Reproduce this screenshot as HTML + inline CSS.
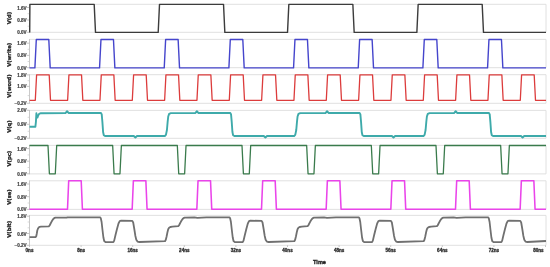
<!DOCTYPE html>
<html><head><meta charset="utf-8"><title>Waveforms</title>
<style>html,body{margin:0;padding:0;background:#fff;}svg{display:block;}text{font-family:"Liberation Sans",Arial,sans-serif;font-weight:bold;}</style></head><body>
<svg width="550" height="267" viewBox="0 0 550 267">
<rect width="550" height="267" fill="#fff"/>
<path d="M29.5,4.3 H546.0 V32.3 H29.5" fill="none" stroke="#dcdcdc" stroke-width="0.9"/>
<path d="M29.5,3.9 V32.7" fill="none" stroke="#c4c4c4" stroke-width="0.9"/>
<path d="M29.5,39.4 H546.0 V67.7 H29.5" fill="none" stroke="#dcdcdc" stroke-width="0.9"/>
<path d="M29.5,39 V68.1" fill="none" stroke="#c4c4c4" stroke-width="0.9"/>
<path d="M29.5,74.7 H546.0 V103.3 H29.5" fill="none" stroke="#dcdcdc" stroke-width="0.9"/>
<path d="M29.5,74.3 V103.7" fill="none" stroke="#c4c4c4" stroke-width="0.9"/>
<path d="M29.5,110.4 H546.0 V138.3 H29.5" fill="none" stroke="#dcdcdc" stroke-width="0.9"/>
<path d="M29.5,110 V138.7" fill="none" stroke="#c4c4c4" stroke-width="0.9"/>
<path d="M29.5,145.4 H546.0 V173.9 H29.5" fill="none" stroke="#dcdcdc" stroke-width="0.9"/>
<path d="M29.5,145 V174.3" fill="none" stroke="#c4c4c4" stroke-width="0.9"/>
<path d="M29.5,180.8 H546.0 V209.4 H29.5" fill="none" stroke="#dcdcdc" stroke-width="0.9"/>
<path d="M29.5,180.4 V209.8" fill="none" stroke="#c4c4c4" stroke-width="0.9"/>
<path d="M29.5,215.4 H546.0 V245.3 H29.5" fill="none" stroke="#dcdcdc" stroke-width="0.9"/>
<path d="M29.5,215 V245.7" fill="none" stroke="#c4c4c4" stroke-width="0.9"/>
<path d="M26.6,7.5 H29.5" stroke="#b8b8b8" stroke-width="0.8"/>
<path d="M26.6,20.0 H29.5" stroke="#b8b8b8" stroke-width="0.8"/>
<path d="M26.6,32.3 H29.5" stroke="#b8b8b8" stroke-width="0.8"/>
<path d="M27.6,13.7 H29.5" stroke="#c8c8c8" stroke-width="0.7"/>
<path d="M27.6,26.2 H29.5" stroke="#c8c8c8" stroke-width="0.7"/>
<path d="M26.6,43.2 H29.5" stroke="#b8b8b8" stroke-width="0.8"/>
<path d="M26.6,55.4 H29.5" stroke="#b8b8b8" stroke-width="0.8"/>
<path d="M26.6,67.7 H29.5" stroke="#b8b8b8" stroke-width="0.8"/>
<path d="M27.6,49.3 H29.5" stroke="#c8c8c8" stroke-width="0.7"/>
<path d="M27.6,61.5 H29.5" stroke="#c8c8c8" stroke-width="0.7"/>
<path d="M26.6,74.9 H29.5" stroke="#b8b8b8" stroke-width="0.8"/>
<path d="M26.6,86.4 H29.5" stroke="#b8b8b8" stroke-width="0.8"/>
<path d="M26.6,103.3 H29.5" stroke="#b8b8b8" stroke-width="0.8"/>
<path d="M27.6,80.7 H29.5" stroke="#c8c8c8" stroke-width="0.7"/>
<path d="M27.6,95.6 H29.5" stroke="#c8c8c8" stroke-width="0.7"/>
<path d="M26.6,110.3 H29.5" stroke="#b8b8b8" stroke-width="0.8"/>
<path d="M26.6,124.3 H29.5" stroke="#b8b8b8" stroke-width="0.8"/>
<path d="M26.6,138.2 H29.5" stroke="#b8b8b8" stroke-width="0.8"/>
<path d="M27.6,117.3 H29.5" stroke="#c8c8c8" stroke-width="0.7"/>
<path d="M27.6,131.3 H29.5" stroke="#c8c8c8" stroke-width="0.7"/>
<path d="M26.6,148.6 H29.5" stroke="#b8b8b8" stroke-width="0.8"/>
<path d="M26.6,161.2 H29.5" stroke="#b8b8b8" stroke-width="0.8"/>
<path d="M26.6,173.8 H29.5" stroke="#b8b8b8" stroke-width="0.8"/>
<path d="M27.6,154.9 H29.5" stroke="#c8c8c8" stroke-width="0.7"/>
<path d="M27.6,167.5 H29.5" stroke="#c8c8c8" stroke-width="0.7"/>
<path d="M26.6,184.0 H29.5" stroke="#b8b8b8" stroke-width="0.8"/>
<path d="M26.6,196.7 H29.5" stroke="#b8b8b8" stroke-width="0.8"/>
<path d="M26.6,209.4 H29.5" stroke="#b8b8b8" stroke-width="0.8"/>
<path d="M27.6,190.4 H29.5" stroke="#c8c8c8" stroke-width="0.7"/>
<path d="M27.6,203.0 H29.5" stroke="#c8c8c8" stroke-width="0.7"/>
<path d="M26.6,216.2 H29.5" stroke="#b8b8b8" stroke-width="0.8"/>
<path d="M26.6,233.5 H29.5" stroke="#b8b8b8" stroke-width="0.8"/>
<path d="M26.6,245.3 H29.5" stroke="#b8b8b8" stroke-width="0.8"/>
<path d="M27.6,222.0 H29.5" stroke="#c8c8c8" stroke-width="0.7"/>
<path d="M27.6,227.8 H29.5" stroke="#c8c8c8" stroke-width="0.7"/>
<path d="M27.6,239.3 H29.5" stroke="#c8c8c8" stroke-width="0.7"/>
<path d="M29.5,245.3 V247" stroke="#b8b8b8" stroke-width="0.8"/>
<path d="M81.1,245.3 V247" stroke="#b8b8b8" stroke-width="0.8"/>
<path d="M132.7,245.3 V247" stroke="#b8b8b8" stroke-width="0.8"/>
<path d="M184.3,245.3 V247" stroke="#b8b8b8" stroke-width="0.8"/>
<path d="M235.9,245.3 V247" stroke="#b8b8b8" stroke-width="0.8"/>
<path d="M287.5,245.3 V247" stroke="#b8b8b8" stroke-width="0.8"/>
<path d="M339.1,245.3 V247" stroke="#b8b8b8" stroke-width="0.8"/>
<path d="M390.7,245.3 V247" stroke="#b8b8b8" stroke-width="0.8"/>
<path d="M442.3,245.3 V247" stroke="#b8b8b8" stroke-width="0.8"/>
<path d="M493.9,245.3 V247" stroke="#b8b8b8" stroke-width="0.8"/>
<path d="M545.5,245.3 V247" stroke="#b8b8b8" stroke-width="0.8"/>
<path d="M29.7,32.4 L29.9,4.4 L94.2,4.4 L95.5,32.4 L158.2,32.4 L159.5,4.4 L223.53,4.4 L224.83,32.4 L287.53,32.4 L288.83,4.4 L352.86,4.4 L354.16,32.4 L416.86,32.4 L418.16,4.4 L482.19,4.4 L483.49,32.4 L546,32.4" fill="none" stroke="#3c3c3c" stroke-width="1.4" stroke-linejoin="round"/>
<path d="M29.5,67.9 L34.9,67.9 L36.3,39.5 L48.8,39.5 L50.2,67.9 L99.56,67.9 L100.97,39.5 L113.47,39.5 L114.87,67.9 L164.23,67.9 L165.63,39.5 L178.13,39.5 L179.53,67.9 L228.9,67.9 L230.3,39.5 L242.8,39.5 L244.2,67.9 L293.56,67.9 L294.96,39.5 L307.46,39.5 L308.86,67.9 L358.23,67.9 L359.62,39.5 L372.12,39.5 L373.52,67.9 L422.89,67.9 L424.29,39.5 L436.79,39.5 L438.19,67.9 L487.56,67.9 L488.95,39.5 L501.45,39.5 L502.85,67.9 L546,67.9" fill="none" stroke="#4545cc" stroke-width="1.4" stroke-linejoin="round"/>
<path d="M29.5,100.3 L35.3,100.3 L36.6,74.9 L49.2,74.9 L50.5,100.3 L67.63,100.3 L68.93,74.9 L81.53,74.9 L82.83,100.3 L99.97,100.3 L101.27,74.9 L113.86,74.9 L115.16,100.3 L132.3,100.3 L133.6,74.9 L146.2,74.9 L147.5,100.3 L164.63,100.3 L165.93,74.9 L178.53,74.9 L179.83,100.3 L196.96,100.3 L198.26,74.9 L210.86,74.9 L212.16,100.3 L229.3,100.3 L230.6,74.9 L243.2,74.9 L244.5,100.3 L261.63,100.3 L262.93,74.9 L275.53,74.9 L276.83,100.3 L293.96,100.3 L295.26,74.9 L307.86,74.9 L309.16,100.3 L326.29,100.3 L327.59,74.9 L340.19,74.9 L341.49,100.3 L358.63,100.3 L359.93,74.9 L372.53,74.9 L373.83,100.3 L390.96,100.3 L392.26,74.9 L404.86,74.9 L406.16,100.3 L423.29,100.3 L424.59,74.9 L437.19,74.9 L438.49,100.3 L455.62,100.3 L456.92,74.9 L469.52,74.9 L470.82,100.3 L487.96,100.3 L489.26,74.9 L501.86,74.9 L503.16,100.3 L520.29,100.3 L521.59,74.9 L534.19,74.9 L535.49,100.3 L546,100.3" fill="none" stroke="#dc3c3c" stroke-width="1.3" stroke-linejoin="round"/>
<path d="M29.5,126.7 L35.4,126.7 L35.9,122 L36.4,113.3 L36.8,117 L37.4,117.6 L38.1,115.6 L39.1,113.9 L40.9,113.2 L65.7,112.95 L67.1,111.2 L68.5,112.95 L100.8,112.9 L101.7,114.2 L102.4,122 L103.1,132 L103.8,135.2 L105,135.95 L133.8,135.95 L135.4,137.5 L137,135.95 L164.83,135.95 L165.93,134.9 L166.93,130 L167.63,122 L168.23,116.5 L169.13,113.9 L170.93,113.1 L195.5,112.95 L196.9,111.2 L198.3,112.95 L230.13,112.9 L231.03,114.2 L231.73,122 L232.43,132 L233.13,135.2 L234.33,135.95 L263.8,135.95 L265.4,137.5 L267,135.95 L294.16,135.95 L295.26,134.9 L296.26,130 L296.96,122 L297.56,116.5 L298.46,113.9 L300.26,113.1 L325.7,112.95 L327.1,111.2 L328.5,112.95 L359.46,112.9 L360.36,114.2 L361.06,122 L361.76,132 L362.46,135.2 L363.66,135.95 L391.9,135.95 L393.5,137.5 L395.1,135.95 L423.49,135.95 L424.59,134.9 L425.59,130 L426.29,122 L426.89,116.5 L427.79,113.9 L429.59,113.1 L454.3,112.95 L455.7,111.2 L457.1,112.95 L488.79,112.9 L489.69,114.2 L490.39,122 L491.09,132 L491.79,135.2 L492.99,135.95 L521,135.95 L522.6,137.5 L524.2,135.95 L546,135.95" fill="none" stroke="#3eaaaa" stroke-width="1.9" stroke-linejoin="round"/>
<path d="M29.5,145.5 L48,145.5 L49.4,173.8 L55.3,173.8 L56.7,145.5 L112.67,145.5 L114.06,173.8 L119.97,173.8 L121.37,145.5 L177.33,145.5 L178.73,173.8 L184.63,173.8 L186.03,145.5 L242,145.5 L243.4,173.8 L249.3,173.8 L250.69,145.5 L306.66,145.5 L308.06,173.8 L313.96,173.8 L315.36,145.5 L371.33,145.5 L372.73,173.8 L378.63,173.8 L380.03,145.5 L435.99,145.5 L437.39,173.8 L443.29,173.8 L444.69,145.5 L500.66,145.5 L502.06,173.8 L507.96,173.8 L509.36,145.5 L546,145.5" fill="none" stroke="#3a7b4c" stroke-width="1.3" stroke-linejoin="round"/>
<path d="M29.5,209.25 L67.5,209.25 L68.7,180.7 L81.2,180.7 L82.4,209.25 L132.17,209.25 L133.37,180.7 L145.87,180.7 L147.06,209.25 L196.83,209.25 L198.03,180.7 L210.53,180.7 L211.73,209.25 L261.5,209.25 L262.69,180.7 L275.19,180.7 L276.39,209.25 L326.16,209.25 L327.36,180.7 L339.86,180.7 L341.06,209.25 L390.83,209.25 L392.03,180.7 L404.53,180.7 L405.73,209.25 L455.49,209.25 L456.69,180.7 L469.19,180.7 L470.39,209.25 L520.15,209.25 L521.36,180.7 L533.86,180.7 L535.06,209.25 L546,209.25" fill="none" stroke="#ea44ea" stroke-width="1.55" stroke-linejoin="round"/>
<path d="M29.5,237.1 L35.7,237.1 L36.3,236 L36.8,233.5 L37.3,230.5 L37.9,228.7 L38.7,227.5 L39.7,226.8 L41,226.6 L48.8,226.3 L49.7,225.4 L50.6,223.5 L51.5,221.8 L52.4,220.3 L53.3,219 L54.2,218.1 L55.3,217.6 L66.6,217.6 L67.4,217.3 L100.1,217.3 L100.8,218.3 L101.6,222 L102.5,230 L103.4,237.5 L104.2,241 L105.5,242.1 L113.4,242.1 L114.2,240.6 L115.5,235 L117,229 L118.5,223.5 L119.7,221.2 L121.2,220.7 L132.3,220.9 L133.2,222.5 L134.3,229 L135.4,236 L136.3,239.8 L137.5,241.6 L139.3,242 L165,241.2 L165.8,239.8 L166.6,236.5 L167.4,232.5 L168.2,229.3 L169.1,227.7 L170.3,227 L172.5,226.7 L178.1,226.2 L179.03,225.4 L179.93,223.5 L180.83,221.8 L181.73,220.3 L182.63,219 L183.53,218.1 L184.63,217.6 L194.4,217.4 L197.4,217.95 L201.9,217.6 L206.4,217.35 L229.43,217.3 L230.13,218.3 L230.93,222 L231.83,230 L232.73,237.5 L233.53,241 L234.83,242.1 L242.73,242.1 L243.53,240.6 L244.83,235 L246.33,229 L247.83,223.5 L249.03,221.2 L250.53,220.7 L261.63,220.9 L262.53,222.5 L263.63,229 L264.73,236 L265.63,239.8 L266.83,241.6 L268.63,242 L294.33,241.2 L295.13,239.8 L295.93,236.5 L296.73,232.5 L297.53,229.3 L298.43,227.7 L299.63,227 L301.83,226.7 L307.43,226.2 L308.36,225.4 L309.26,223.5 L310.16,221.8 L311.06,220.3 L311.96,219 L312.86,218.1 L313.96,217.6 L324,217.4 L327,217.95 L331.5,217.6 L336,217.35 L358.76,217.3 L359.46,218.3 L360.26,222 L361.16,230 L362.06,237.5 L362.86,241 L364.16,242.1 L372.06,242.1 L372.86,240.6 L374.16,235 L375.66,229 L377.16,223.5 L378.36,221.2 L379.86,220.7 L390.96,220.9 L391.86,222.5 L392.96,229 L394.06,236 L394.96,239.8 L396.16,241.6 L397.96,242 L423.66,241.2 L424.46,239.8 L425.26,236.5 L426.06,232.5 L426.86,229.3 L427.76,227.7 L428.96,227 L431.16,226.7 L436.76,226.2 L437.69,225.4 L438.59,223.5 L439.49,221.8 L440.39,220.3 L441.29,219 L442.19,218.1 L443.29,217.6 L453.6,217.4 L456.6,217.95 L461.1,217.6 L465.6,217.35 L488.09,217.3 L488.79,218.3 L489.59,222 L490.49,230 L491.39,237.5 L492.19,241 L493.49,242.1 L501.39,242.1 L502.19,240.6 L503.49,235 L504.99,229 L506.49,223.5 L507.69,221.2 L509.19,220.7 L520.29,220.9 L521.19,222.5 L522.29,229 L523.39,236 L524.29,239.8 L525.49,241.6 L527.29,242 L546,241" fill="none" stroke="#707070" stroke-width="1.8" stroke-linejoin="round"/>
<text x="26.7" y="9.5" font-size="4.6" text-anchor="end" fill="#3c3c3c" stroke="#3c3c3c" stroke-width="0.18">1.6V</text>
<text x="26.7" y="22" font-size="4.6" text-anchor="end" fill="#3c3c3c" stroke="#3c3c3c" stroke-width="0.18">0.8V</text>
<text x="26.7" y="34.3" font-size="4.6" text-anchor="end" fill="#3c3c3c" stroke="#3c3c3c" stroke-width="0.18">0.0V</text>
<text x="26.7" y="45.2" font-size="4.6" text-anchor="end" fill="#3c3c3c" stroke="#3c3c3c" stroke-width="0.18">1.6V</text>
<text x="26.7" y="57.4" font-size="4.6" text-anchor="end" fill="#3c3c3c" stroke="#3c3c3c" stroke-width="0.18">0.8V</text>
<text x="26.7" y="69.7" font-size="4.6" text-anchor="end" fill="#3c3c3c" stroke="#3c3c3c" stroke-width="0.18">0.0V</text>
<text x="26.7" y="76.9" font-size="4.6" text-anchor="end" fill="#3c3c3c" stroke="#3c3c3c" stroke-width="0.18">1.8V</text>
<text x="26.7" y="88.4" font-size="4.6" text-anchor="end" fill="#3c3c3c" stroke="#3c3c3c" stroke-width="0.18">1.0V</text>
<text x="26.7" y="105.3" font-size="4.6" text-anchor="end" fill="#3c3c3c" stroke="#3c3c3c" stroke-width="0.18">−0.2V</text>
<text x="26.7" y="112.3" font-size="4.6" text-anchor="end" fill="#3c3c3c" stroke="#3c3c3c" stroke-width="0.18">2.0V</text>
<text x="26.7" y="126.3" font-size="4.6" text-anchor="end" fill="#3c3c3c" stroke="#3c3c3c" stroke-width="0.18">0.9V</text>
<text x="26.7" y="140.2" font-size="4.6" text-anchor="end" fill="#3c3c3c" stroke="#3c3c3c" stroke-width="0.18">−0.2V</text>
<text x="26.7" y="150.6" font-size="4.6" text-anchor="end" fill="#3c3c3c" stroke="#3c3c3c" stroke-width="0.18">1.6V</text>
<text x="26.7" y="163.2" font-size="4.6" text-anchor="end" fill="#3c3c3c" stroke="#3c3c3c" stroke-width="0.18">0.8V</text>
<text x="26.7" y="175.8" font-size="4.6" text-anchor="end" fill="#3c3c3c" stroke="#3c3c3c" stroke-width="0.18">0.0V</text>
<text x="26.7" y="186" font-size="4.6" text-anchor="end" fill="#3c3c3c" stroke="#3c3c3c" stroke-width="0.18">1.6V</text>
<text x="26.7" y="198.7" font-size="4.6" text-anchor="end" fill="#3c3c3c" stroke="#3c3c3c" stroke-width="0.18">0.8V</text>
<text x="26.7" y="211.4" font-size="4.6" text-anchor="end" fill="#3c3c3c" stroke="#3c3c3c" stroke-width="0.18">0.0V</text>
<text x="26.7" y="218.2" font-size="4.6" text-anchor="end" fill="#3c3c3c" stroke="#3c3c3c" stroke-width="0.18">1.8V</text>
<text x="26.7" y="235.5" font-size="4.6" text-anchor="end" fill="#3c3c3c" stroke="#3c3c3c" stroke-width="0.18">0.6V</text>
<text x="26.7" y="247.3" font-size="4.6" text-anchor="end" fill="#3c3c3c" stroke="#3c3c3c" stroke-width="0.18">−0.2V</text>
<text x="0" y="0" font-size="5.2" text-anchor="middle" fill="#1e1e1e" stroke="#1e1e1e" stroke-width="0.3" style="font-family:&quot;DejaVu Sans&quot;,sans-serif" transform="translate(10.7,18.05) rotate(-90)">V(d)</text>
<text x="0" y="0" font-size="5.2" text-anchor="middle" fill="#1e1e1e" stroke="#1e1e1e" stroke-width="0.3" style="font-family:&quot;DejaVu Sans&quot;,sans-serif" transform="translate(10.7,54.9) rotate(-90)">V(write)</text>
<text x="0" y="0" font-size="5.2" text-anchor="middle" fill="#1e1e1e" stroke="#1e1e1e" stroke-width="0.3" style="font-family:&quot;DejaVu Sans&quot;,sans-serif" transform="translate(10.7,86.05) rotate(-90)">V(word)</text>
<text x="0" y="0" font-size="5.2" text-anchor="middle" fill="#1e1e1e" stroke="#1e1e1e" stroke-width="0.3" style="font-family:&quot;DejaVu Sans&quot;,sans-serif" transform="translate(10.7,126.6) rotate(-90)">V(q)</text>
<text x="0" y="0" font-size="5.2" text-anchor="middle" fill="#1e1e1e" stroke="#1e1e1e" stroke-width="0.3" style="font-family:&quot;DejaVu Sans&quot;,sans-serif" transform="translate(10.7,158.7) rotate(-90)">V(pc)</text>
<text x="0" y="0" font-size="5.2" text-anchor="middle" fill="#1e1e1e" stroke="#1e1e1e" stroke-width="0.3" style="font-family:&quot;DejaVu Sans&quot;,sans-serif" transform="translate(10.7,197.05) rotate(-90)">V(se)</text>
<text x="0" y="0" font-size="5.2" text-anchor="middle" fill="#1e1e1e" stroke="#1e1e1e" stroke-width="0.3" style="font-family:&quot;DejaVu Sans&quot;,sans-serif" transform="translate(10.7,229.35) rotate(-90)">V(bit)</text>
<text x="29.5" y="252.35" font-size="4.55" text-anchor="middle" fill="#2a2a2a" stroke="#2a2a2a" stroke-width="0.28">0ns</text>
<text x="81.1" y="252.35" font-size="4.55" text-anchor="middle" fill="#2a2a2a" stroke="#2a2a2a" stroke-width="0.28">8ns</text>
<text x="132.7" y="252.35" font-size="4.55" text-anchor="middle" fill="#2a2a2a" stroke="#2a2a2a" stroke-width="0.28">16ns</text>
<text x="184.3" y="252.35" font-size="4.55" text-anchor="middle" fill="#2a2a2a" stroke="#2a2a2a" stroke-width="0.28">24ns</text>
<text x="235.9" y="252.35" font-size="4.55" text-anchor="middle" fill="#2a2a2a" stroke="#2a2a2a" stroke-width="0.28">32ns</text>
<text x="287.5" y="252.35" font-size="4.55" text-anchor="middle" fill="#2a2a2a" stroke="#2a2a2a" stroke-width="0.28">40ns</text>
<text x="339.1" y="252.35" font-size="4.55" text-anchor="middle" fill="#2a2a2a" stroke="#2a2a2a" stroke-width="0.28">48ns</text>
<text x="390.7" y="252.35" font-size="4.55" text-anchor="middle" fill="#2a2a2a" stroke="#2a2a2a" stroke-width="0.28">56ns</text>
<text x="442.3" y="252.35" font-size="4.55" text-anchor="middle" fill="#2a2a2a" stroke="#2a2a2a" stroke-width="0.28">64ns</text>
<text x="493.9" y="252.35" font-size="4.55" text-anchor="middle" fill="#2a2a2a" stroke="#2a2a2a" stroke-width="0.28">72ns</text>
<text x="538.4" y="252.35" font-size="4.55" text-anchor="middle" fill="#2a2a2a" stroke="#2a2a2a" stroke-width="0.28">80ns</text>
<text x="319.5" y="263.8" font-size="5.6" text-anchor="middle" fill="#1e1e1e" stroke="#1e1e1e" stroke-width="0.32">Time</text>
</svg>
</body></html>
